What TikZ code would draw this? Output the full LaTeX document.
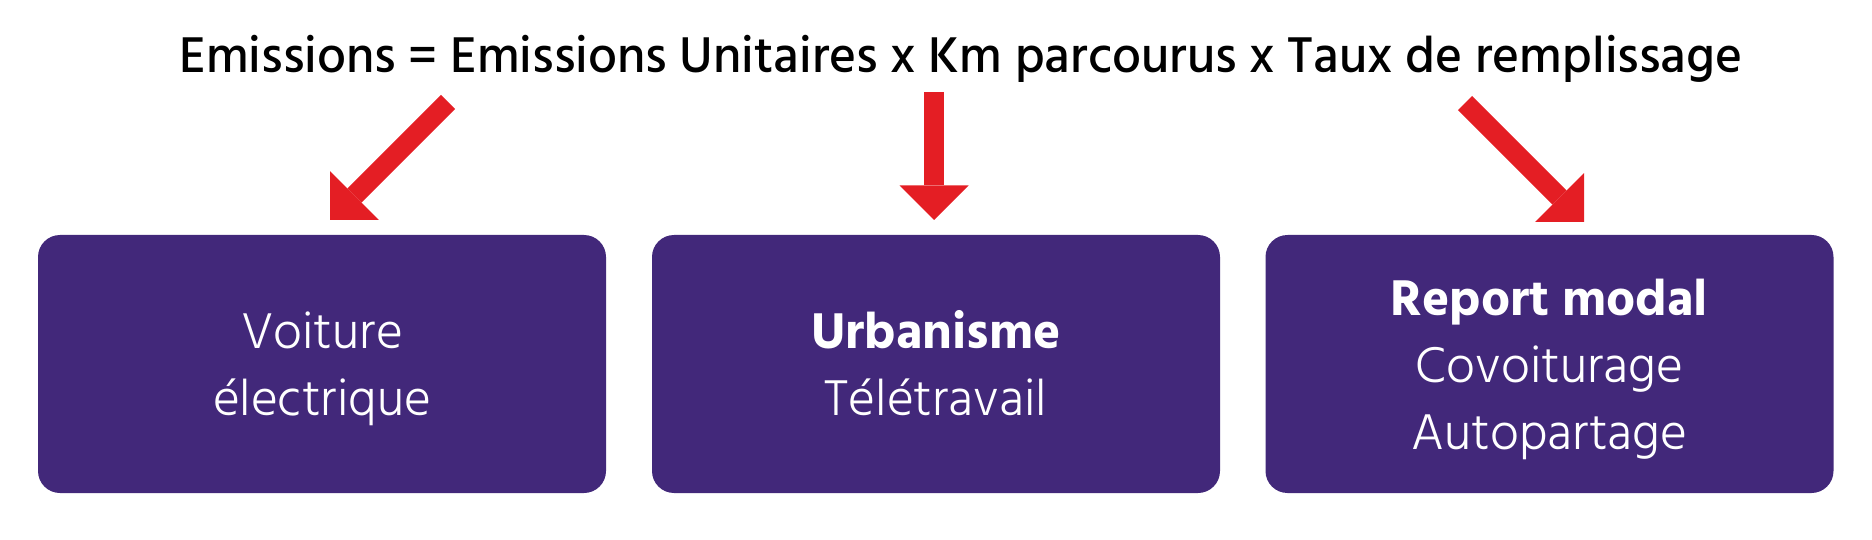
\documentclass[tikz,border=0pt]{standalone}
\usepackage{fontspec}
\usetikzlibrary{arrows.meta}

\IfFontExistsTF{Hind Madurai Light}
  {\newfontfamily\boxfont{Hind Madurai Light}[BoldFont={Hind Madurai Bold}]}
  {\newfontfamily\boxfont{Hind Madurai}}
\IfFontExistsTF{Hind Madurai Medium}
  {\newfontfamily\titlefont{Hind Madurai Medium}}
  {\newfontfamily\titlefont{Hind Madurai}}

\definecolor{levierviolet}{RGB}{66,40,122}
\definecolor{flecherouge}{RGB}{228,30,36}

% hauteur de ligne commune pour centrer le texte des cases
\newcommand\ligne{\rule[-15pt]{0pt}{66pt}}

\tikzset{
  levier/.style={fill=levierviolet, rounded corners=22pt, minimum width=568pt,
    minimum height=258pt, inner sep=0pt, text=white, align=center,
    font=\boxfont\fontsize{51.5}{67}\selectfont},
  fleche/.style={draw=flecherouge, line width=20pt,
    -{Triangle[width=69pt, length=34.5pt, line width=0pt]}}
}

\begin{document}
\begin{tikzpicture}[x=1pt, y=-1pt]
  \useasboundingbox (0,0) rectangle (1872,540);
  % formule
  \node[anchor=base, inner sep=0pt, font=\titlefont\fontsize{51.5}{60}\selectfont]
    (formule) at (961,73) {Emissions = Emissions Unitaires x Km parcourus x Taux de remplissage};
  % leviers
  \node[levier] (voiture) at (322,364) {\ligne Voiture\\électrique\ligne};
  \node[levier] (urbanisme) at (936,364) {\ligne\textbf{Urbanisme}\\Télétravail\ligne};
  \node[levier] (report) at (1549.5,364) {\ligne\textbf{Report modal}\\Covoiturage\\Autopartage\ligne};
  % fleches
  \coordinate (depart1) at (448,102);
  \coordinate (arrivee1) at (330,220);
  \coordinate (depart2) at (934,92);
  \coordinate (arrivee2) at (934,220);
  \coordinate (depart3) at (1465,103);
  \coordinate (arrivee3) at (1584,222);
  \draw[fleche] (depart1) -- (arrivee1);
  \draw[fleche] (depart2) -- (arrivee2);
  \draw[fleche] (depart3) -- (arrivee3);
\end{tikzpicture}
\end{document}
